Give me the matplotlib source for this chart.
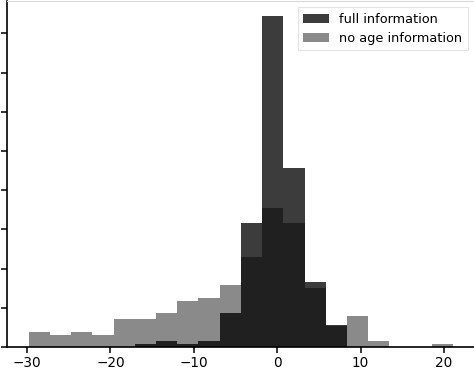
import numpy as np
import matplotlib
matplotlib.use("Agg")
import matplotlib.pyplot as plt

# Shared bin edges (20 bins)
bin_lo, bin_hi, n_bins = -29.8, 21.1, 20
edges = np.linspace(bin_lo, bin_hi, n_bins + 1)
centers = (edges[:-1] + edges[1:]) / 2

# Density values (one per bin)
full_information = [0, 0, 0, 0, 0,
                    0.0017, 0.0032, 0.0017, 0.0032, 0.0175,
                    0.0631, 0.1688, 0.0915, 0.0330, 0.0112,
                    0, 0, 0, 0, 0]
no_age_information = [0.0078, 0.0061, 0.0078, 0.0061, 0.0141,
                      0.0141, 0.0172, 0.0236, 0.0252, 0.0315,
                      0.0458, 0.0708, 0.0631, 0.0299, 0.0109,
                      0.0158, 0.0032, 0, 0, 0.0017]
labels = ["full information", "no age information"]
xticks = [-30, -20, -10, 0, 10, 20]
yticks = [0, 0.02, 0.04, 0.06, 0.08, 0.10, 0.12, 0.14, 0.16]

fig = plt.figure(figsize=(4.74, 3.72), dpi=100)
ax = fig.add_axes([7 / 474, 25 / 372, 467 / 474, 346 / 372])

ax.hist(centers, bins=edges, weights=full_information, color="black",
        alpha=0.765, label=labels[0])
ax.hist(centers, bins=edges, weights=no_age_information, color="black",
        alpha=0.46, label=labels[1])

ax.set_xlim(-32.4, 23.6)
ax.set_ylim(0, 0.1765)
ax.set_xticks(xticks)
ax.set_xticklabels([f"{t}".replace("-", "\u2212") for t in xticks])
ax.set_yticks(yticks)
ax.set_yticklabels([])
ax.tick_params(axis="x", labelsize=9.8, length=4, width=1.1, pad=2.5)
ax.tick_params(axis="y", length=4, width=1.1)

ax.spines["right"].set_visible(False)
ax.spines["top"].set_color("#d8d8d8")
ax.spines["left"].set_linewidth(1.2)
ax.spines["bottom"].set_linewidth(1.2)

leg = ax.legend(loc="upper right", fontsize=9.3, frameon=True,
                fancybox=False, edgecolor="#dddddd", borderaxespad=0.5)
leg.get_frame().set_linewidth(0.8)

fig.savefig("out.png", dpi=100)
